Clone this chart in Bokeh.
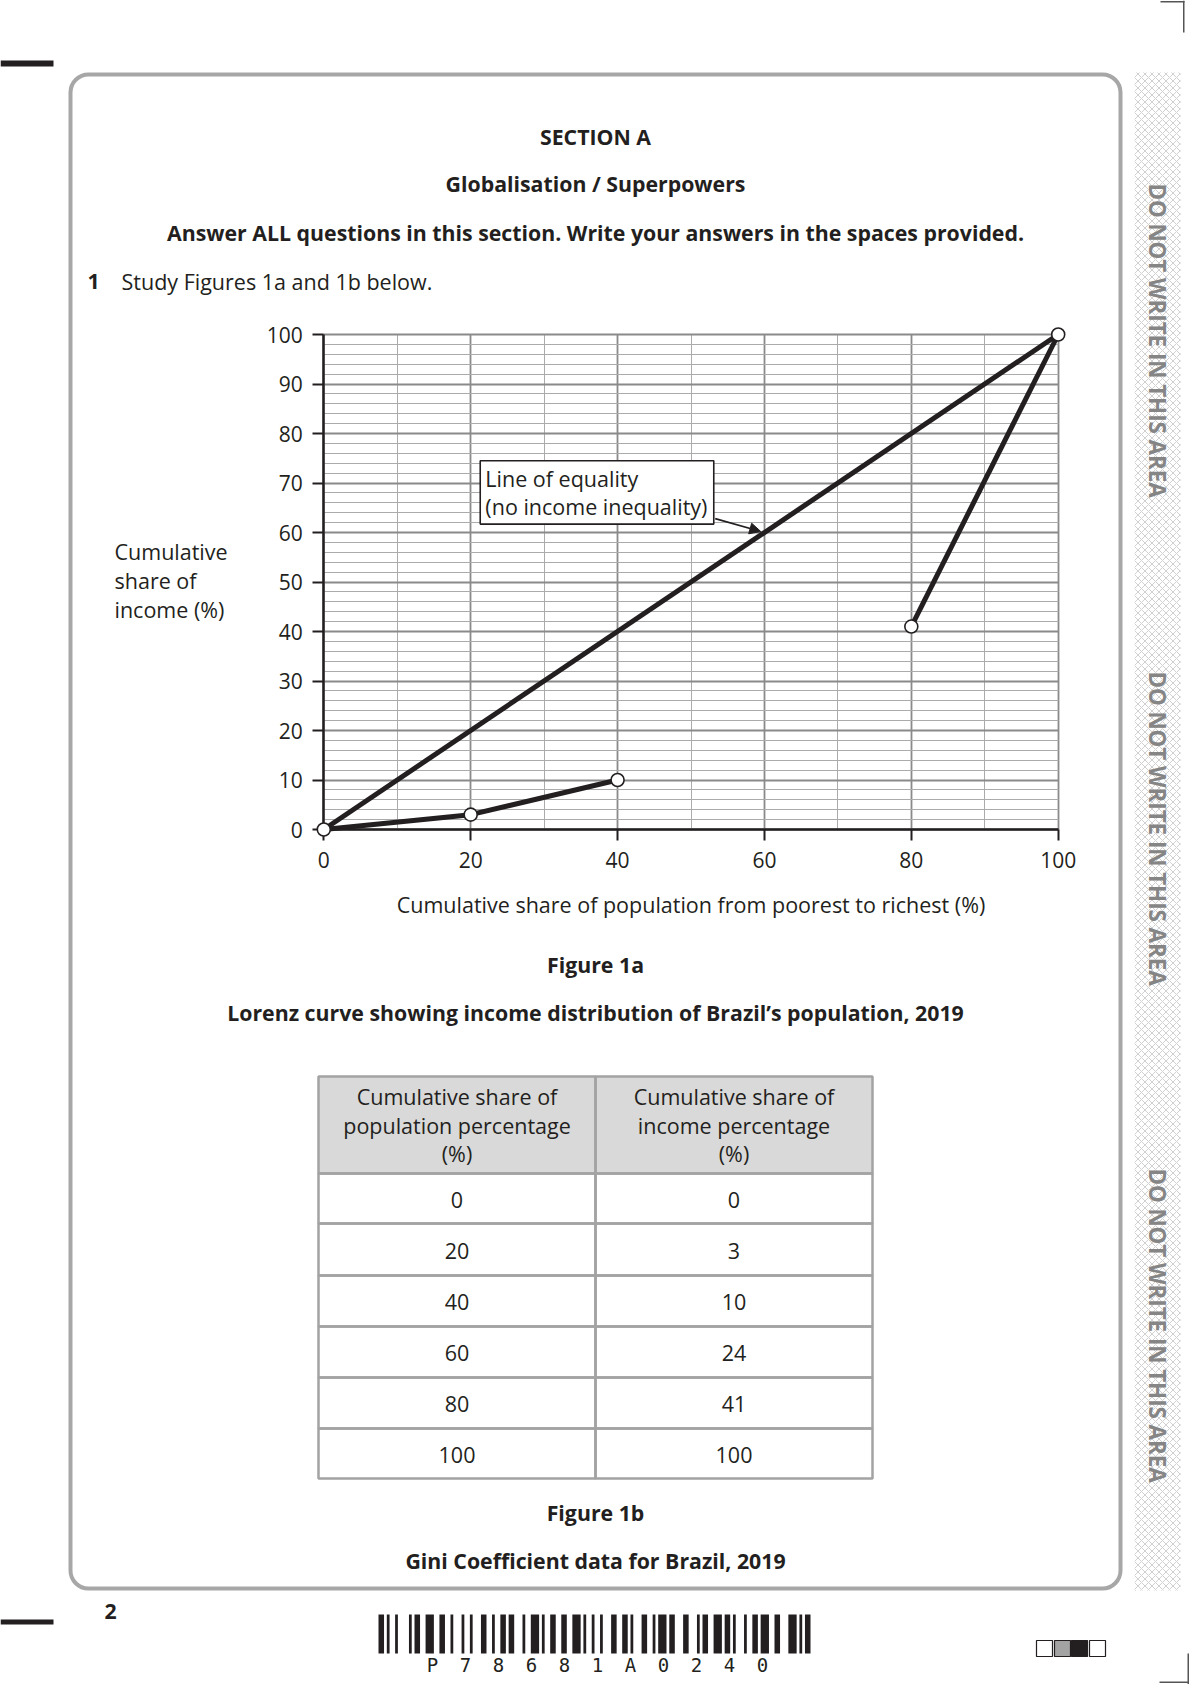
import math
from bokeh.plotting import figure
from bokeh.models import (Range1d, FixedTicker, Label, BoxAnnotation, Arrow,
                          NormalHead)
from bokeh.embed import file_html
from bokeh.resources import INLINE

# ---------------- data ----------------
population_pct = [0, 20, 40, 60, 80, 100]          # Figure 1b, column 1
income_pct = [0, 3, 10, 24, 41, 100]               # Figure 1b, column 2
lorenz_lower_x = [0, 20, 40]                       # plotted part of the curve
lorenz_lower_y = [0, 3, 10]
lorenz_upper_x = [80, 100]
lorenz_upper_y = [41, 100]
equality_x = [0, 100]
equality_y = [0, 100]
x_ticks = [0, 20, 40, 60, 80, 100]
x_minor = [10, 30, 50, 70, 90]
y_ticks = [0, 10, 20, 30, 40, 50, 60, 70, 80, 90, 100]
y_minor = [v for v in range(0, 101, 2) if v % 10 != 0]
table_header_1 = ["Cumulative share of", "population percentage", "(%)"]
table_header_2 = ["Cumulative share of", "income percentage", "(%)"]
barcode_chars = ["P", "7", "8", "6", "8", "1", "A", "0", "2", "4", "0"]
barcode_widths = [2, 1, 1, 2, 1, 4, 1, 1, 2, 2, 3, 2, 2, 2, 1, 3, 1, 2, 1, 3, 2, 2,
                  1, 2, 2, 1, 2, 3, 1, 2, 3, 1, 1, 2, 2, 2, 2, 2, 3, 1, 1, 2, 1, 2,
                  1, 3, 2, 2, 2, 1, 1, 3, 2, 2, 1, 1, 3, 1, 2, 3, 2, 3, 1, 1, 2, 2,
                  3, 1, 2, 1, 1, 3, 1, 2, 2, 1, 3, 2, 2, 3, 3, 1, 1, 1, 2]

INK = "#231f20"
FONT = "Open Sans"
FS = 21.5      # regular text size (px)
BOLD = 21.3    # bold heading size (px)
W, H = 1190, 1684

# chart placement on the page (pixels): where 0 and 100 fall
PX0, PX100 = 323.3, 1057.7
PY0, PY100 = 829.0, 334.0
kx = (PX100 - PX0) / 100.0
ky = (PY0 - PY100) / 100.0

p = figure(width=W, height=H,
           x_range=Range1d(-PX0 / kx, (W - PX0) / kx),
           y_range=Range1d(-(H - PY0) / ky, PY0 / ky),
           output_backend="svg", toolbar_location=None, min_border=0)
p.extra_x_ranges = {"page": Range1d(0, W)}
p.extra_y_ranges = {"page": Range1d(H, 0)}
p.background_fill_color = "white"
p.border_fill_color = "white"
p.outline_line_color = None

# axes (placed at the chart origin)
for ax in (p.xaxis[0], p.yaxis[0]):
    ax.fixed_location = 0
    ax.bounds = (0, 100)
    ax.axis_line_color = INK
    ax.axis_line_width = 2.5
    ax.major_tick_line_color = INK
    ax.major_tick_line_width = 2
    ax.major_tick_out = 11
    ax.major_tick_in = 0
    ax.minor_tick_out = 0
    ax.minor_tick_in = 0
    ax.major_label_text_font = FONT
    ax.major_label_text_font_size = "21px"
    ax.major_label_text_color = INK
p.xaxis.ticker = FixedTicker(ticks=x_ticks, minor_ticks=x_minor)
p.yaxis.ticker = FixedTicker(ticks=y_ticks, minor_ticks=y_minor)
p.xaxis.major_label_standoff = 11
p.yaxis.major_label_standoff = 10
p.xaxis.axis_label = "Cumulative share of population from poorest to richest (%)"
p.xaxis.axis_label_text_font = FONT
p.xaxis.axis_label_text_font_size = f"{FS}px"
p.xaxis.axis_label_text_font_style = "normal"
p.xaxis.axis_label_text_color = INK
p.xaxis.axis_label_standoff = 19

# grids
GRID_MAJOR, GRID_MINOR = "#8a8a8a", "#ababab"
grid_ok = True
try:
    for g in (p.xgrid[0], p.ygrid[0]):
        g.bounds = (0, 100)
        g.cross_bounds = (0, 100)
except Exception:
    grid_ok = False
if grid_ok:
    for g in (p.xgrid[0], p.ygrid[0]):
        g.grid_line_color = GRID_MAJOR
        g.grid_line_width = 1.8
        g.minor_grid_line_color = GRID_MINOR
        g.minor_grid_line_width = 1
    p.xgrid.ticker = FixedTicker(ticks=x_ticks, minor_ticks=x_minor)
    p.ygrid.ticker = FixedTicker(ticks=y_ticks, minor_ticks=y_minor)
else:
    p.xgrid.visible = False
    p.ygrid.visible = False
    p.segment(x0=[0] * len(y_minor), y0=y_minor, x1=[100] * len(y_minor), y1=y_minor,
              line_color=GRID_MINOR, line_width=1)
    p.segment(x0=x_minor, y0=[0] * len(x_minor), x1=x_minor, y1=[100] * len(x_minor),
              line_color=GRID_MINOR, line_width=1)
    p.segment(x0=[0] * len(y_ticks), y0=y_ticks, x1=[100] * len(y_ticks), y1=y_ticks,
              line_color=GRID_MAJOR, line_width=1.8)
    p.segment(x0=x_ticks, y0=[0] * len(x_ticks), x1=x_ticks, y1=[100] * len(x_ticks),
              line_color=GRID_MAJOR, line_width=1.8)

# lines and points
p.line(equality_x, equality_y, line_width=5, line_color=INK)
p.line(lorenz_lower_x, lorenz_lower_y, line_width=5, line_color=INK)
p.line(lorenz_upper_x, lorenz_upper_y, line_width=5, line_color=INK)
p.scatter(lorenz_lower_x + lorenz_upper_x, lorenz_lower_y + lorenz_upper_y,
          size=13, fill_color="white", line_color=INK, line_width=1.6, level="overlay")

# annotation box in chart
p.add_layout(BoxAnnotation(left=21.3, right=53.1, top=74.5, bottom=61.7,
                           fill_color="white", fill_alpha=1, line_color=INK,
                           line_alpha=1, line_width=1.6))
p.add_layout(Label(x=22.0, y=70.9, text="Line of equality", text_font=FONT,
                   text_font_size=f"{FS}px", text_color=INK, text_baseline="middle"))
p.add_layout(Label(x=22.0, y=65.2, text="(no income inequality)", text_font=FONT,
                   text_font_size=f"{FS}px", text_color=INK, text_baseline="middle"))
p.add_layout(Arrow(end=NormalHead(size=11, fill_color=INK, line_color=INK),
                   x_start=53.3, y_start=62.8, x_end=59.5, y_end=60.2,
                   line_color=INK, line_width=1.6))


# ---------------- page furniture (page pixel units) ----------------
def text(t, x, y, size=FS, bold=False, align="center", color=INK, angle=0.0,
         font=FONT):
    p.add_layout(Label(x=x, y=y, x_range_name="page", y_range_name="page",
                       text=t, text_font=font, text_font_size=f"{size}px",
                       text_font_style="bold" if bold else "normal",
                       text_align=align, text_baseline="middle",
                       text_color=color, angle=angle))


def box(l, t, r, b, fill=None, line=None, lw=1.0, **kw):
    p.add_layout(BoxAnnotation(left=l, right=r, top=t, bottom=b,
                               x_range_name="page", y_range_name="page",
                               fill_color=fill, fill_alpha=1 if fill else 0,
                               line_color=line, line_alpha=1 if line else 0,
                               line_width=lw, **kw))


# side strip
box(1134, 72, 1180, 1590, fill=None, line=None, hatch_pattern="x",
    hatch_color="#c4c4c4", hatch_scale=7, hatch_weight=0.8, hatch_alpha=1)
for cy in (340, 828, 1325):
    text("DO NOT WRITE IN THIS AREA", 1157, cy, size=22.3, bold=True,
         color="#858585", angle=-math.pi / 2)

# page border
box(70, 74, 1120, 1588, line="#a7a7a7", lw=4, border_radius=18)

# registration / crop marks
box(0, 60, 53, 66, fill=INK)
box(0, 1619, 53, 1624, fill=INK)
box(1160, 0.5, 1184, 2, fill="#555555")
box(1182.5, 0, 1184, 32, fill="#555555")
box(1187, 1653, 1188.5, 1684, fill="#555555")
box(1159, 1681, 1188.5, 1682.5, fill="#555555")

# headings
text("SECTION A", 595, 136, size=BOLD, bold=True)
text("Globalisation / Superpowers", 595, 183, size=BOLD, bold=True)
text("Answer ALL questions in this section. Write your answers in the spaces provided.",
     595, 232, size=BOLD, bold=True)
text("1", 87, 281, size=BOLD, bold=True, align="left")
text("Study Figures 1a and 1b below.", 121, 281, align="left")

# y axis title
for i, line in enumerate(["Cumulative", "share of", "income (%)"]):
    text(line, 114, 551 + 29 * i, align="left")

text("Figure 1a", 595, 964, size=BOLD, bold=True)
text("Lorenz curve showing income distribution of Brazil\u2019s population, 2019",
     595, 1012, size=BOLD, bold=True)

# table
T_L, T_M, T_R = 318, 595, 872
T_TOP, T_HEAD = 1076, 1173
row_bottoms = [1223, 1275, 1326, 1377, 1428, 1478]
box(T_L, T_TOP, T_R, T_HEAD, fill="#d9d9d9")
edges = [T_TOP, T_HEAD] + row_bottoms
for i in range(len(edges) - 1):
    box(T_L, edges[i], T_M, edges[i + 1], line="#a3a3a3", lw=2.5)
    box(T_M, edges[i], T_R, edges[i + 1], line="#a3a3a3", lw=2.5)
c1, c2 = (T_L + T_M) / 2, (T_M + T_R) / 2
for i in range(3):
    text(table_header_1[i], c1, 1096 + 28.5 * i)
    text(table_header_2[i], c2, 1096 + 28.5 * i)
row_tops = [T_HEAD] + row_bottoms[:-1]
for i in range(len(population_pct)):
    cy = (row_tops[i] + row_bottoms[i]) / 2 + 1
    text(str(population_pct[i]), c1, cy)
    text(str(income_pct[i]), c2, cy)

text("Figure 1b", 595, 1512, size=BOLD, bold=True)
text("Gini Coefficient data for Brazil, 2019", 595, 1560, size=BOLD, bold=True)

# footer
text("2", 104, 1611, size=BOLD, bold=True, align="left")
bx0, bx1 = 378.0, 810.0
mod = (bx1 - bx0) / sum(barcode_widths)
xpos = bx0
for i, w in enumerate(barcode_widths):
    if i % 2 == 0:
        box(xpos, 1614, xpos + w * mod, 1653, fill=INK)
    xpos += w * mod
for i, ch in enumerate(barcode_chars):
    text(ch, 432 + 33 * i, 1664, size=19, font="DejaVu Sans Mono")
for x0, col in [(1036, "white"), (1054, "#a3a3a3"), (1071, INK), (1089, "white")]:
    box(x0, 1640, x0 + 16, 1656, fill=col, line=INK, lw=1.2)

open("out.html", "w").write(file_html(p, INLINE))
